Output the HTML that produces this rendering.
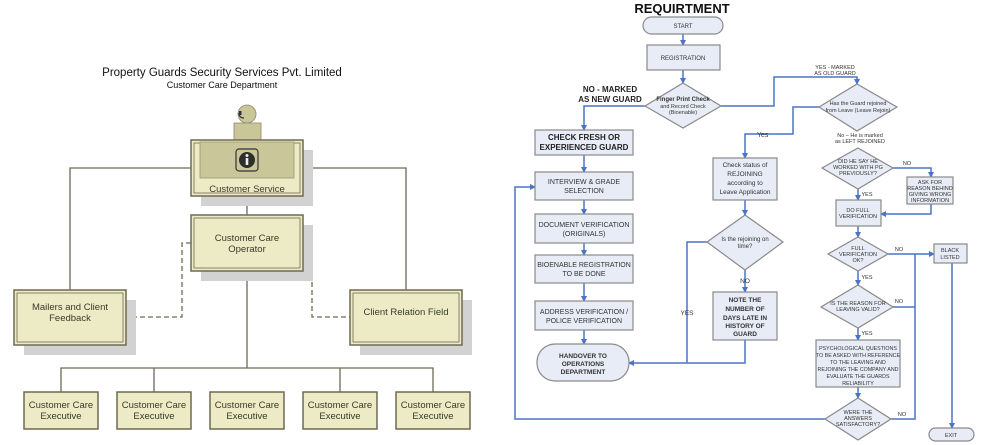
<!DOCTYPE html>
<html><head><meta charset="utf-8"><style>
html,body{margin:0;padding:0;background:#fff;width:1000px;height:445px;overflow:hidden}
svg{display:block}
text{font-family:"Liberation Sans",Arial,sans-serif}
.lt{font-size:9.5px;fill:#3a3a2a;text-anchor:middle}
.ft{font-size:6px;fill:#333;text-anchor:middle}
.fb{font-size:8px;fill:#222;text-anchor:middle;font-weight:bold}
.ob{fill:#ecebc6;stroke:#6e6a52;stroke-width:1.5}
.sh{fill:#d2d2d2}
.ol{stroke:#6e6a52;stroke-width:1.3;fill:none}
.bx{fill:#e8ecf6;stroke:#8a8a8a;stroke-width:1.2}
.bl{stroke:#4a74c6;stroke-width:1.5;fill:none}
</style></head><body>
<svg width="1000" height="445" viewBox="0 0 1000 445" xmlns="http://www.w3.org/2000/svg">
<defs><marker id="a" markerWidth="6" markerHeight="6" refX="5" refY="3" orient="auto" markerUnits="userSpaceOnUse"><path d="M0,0 L6,3 L0,6 z" fill="#4a74c6"/></marker></defs>

<!-- LEFT CHART -->
<text x="222" y="76" style="font-size:11.5px;text-anchor:middle;fill:#111">Property Guards Security Services Pvt. Limited</text>
<text x="222" y="88" style="font-size:9px;text-anchor:middle;fill:#111">Customer Care Department</text>

<!-- connectors -->
<path class="ol" d="M191,168 H70 V290 M303,168 H406 V290 M247,196 V215 M247,271 V368 M61,392 V368 H433 V392 M154,368 V392 M340,368 V392"/>
<path class="ol" stroke-dasharray="5,3" d="M191,243 H182 V317 H128 M303,243 H312 V317 H350"/>

<!-- shadows -->
<rect class="sh" x="201" y="150" width="112" height="56"/>
<rect class="sh" x="201" y="225" width="112" height="56"/>
<rect class="sh" x="24" y="300" width="112" height="55"/>
<rect class="sh" x="360" y="300" width="112" height="55"/>

<!-- person -->
<circle cx="247" cy="114" r="9" fill="#c9c69a" stroke="#8a8668" stroke-width="0.8"/>
<path d="M239,113 q0,5 5,5" stroke="#333" stroke-width="1.2" fill="none"/>
<rect x="239" y="111" width="2.5" height="4" fill="#333"/>
<path d="M234,123 H261 V141 H234 Z" fill="#c9c69a" stroke="#8a8668" stroke-width="0.8"/>

<!-- Customer Service -->
<rect class="ob" x="191" y="140" width="112" height="56"/>
<rect x="194" y="143" width="106" height="50" fill="none" stroke="#6e6a52" stroke-width="0.8"/>
<rect x="200" y="142" width="94" height="36" fill="#c9c69a" stroke="#9a966f" stroke-width="0.8"/>
<rect x="236" y="149" width="22" height="22" rx="3" fill="#c9c69a" stroke="#333" stroke-width="1.2"/>
<circle cx="247" cy="160" r="8" fill="#2e2e2a"/>
<circle cx="247" cy="155.5" r="1.5" fill="#eee"/>
<rect x="245.7" y="158" width="2.6" height="7" fill="#eee"/>
<text class="lt" x="247" y="192">Customer Service</text>

<!-- Operator -->
<rect class="ob" x="191" y="215" width="112" height="56"/>
<rect x="194" y="218" width="106" height="50" fill="none" stroke="#6e6a52" stroke-width="0.8"/>
<text class="lt" x="247" y="241">Customer Care</text>
<text class="lt" x="247" y="252">Operator</text>

<!-- Mailers -->
<rect class="ob" x="14" y="290" width="112" height="55"/>
<rect x="17" y="293" width="106" height="49" fill="none" stroke="#6e6a52" stroke-width="0.8"/>
<text class="lt" x="70" y="310">Mailers and Client</text>
<text class="lt" x="70" y="321">Feedback</text>

<!-- Client Relation -->
<rect class="ob" x="350" y="290" width="112" height="55"/>
<rect x="353" y="293" width="106" height="49" fill="none" stroke="#6e6a52" stroke-width="0.8"/>
<text class="lt" x="406" y="315">Client Relation Field</text>

<!-- executives -->
<g>
<rect class="ob" x="24" y="392" width="74" height="37"/><text class="lt" x="61" y="408">Customer Care</text><text class="lt" x="61" y="419">Executive</text>
<rect class="ob" x="117" y="392" width="74" height="37"/><text class="lt" x="154" y="408">Customer Care</text><text class="lt" x="154" y="419">Executive</text>
<rect class="ob" x="210" y="392" width="74" height="37"/><text class="lt" x="247" y="408">Customer Care</text><text class="lt" x="247" y="419">Executive</text>
<rect class="ob" x="303" y="392" width="74" height="37"/><text class="lt" x="340" y="408">Customer Care</text><text class="lt" x="340" y="419">Executive</text>
<rect class="ob" x="396" y="392" width="74" height="37"/><text class="lt" x="433" y="408">Customer Care</text><text class="lt" x="433" y="419">Executive</text>
</g>

<!-- RIGHT FLOWCHART -->
<text x="682" y="13" style="font-size:13px;font-weight:bold;text-anchor:middle;fill:#111">REQUIRTMENT</text>

<!-- connectors -->
<path class="bl" marker-end="url(#a)" d="M683,34 V45"/>
<path class="bl" marker-end="url(#a)" d="M683,70 V83"/>
<path class="bl" marker-end="url(#a)" d="M645,106 H584 V130"/>
<path class="bl" marker-end="url(#a)" d="M584,155 V172"/>
<path class="bl" marker-end="url(#a)" d="M584,200 V214"/>
<path class="bl" marker-end="url(#a)" d="M584,243 V255"/>
<path class="bl" marker-end="url(#a)" d="M584,283 V301"/>
<path class="bl" marker-end="url(#a)" d="M584,330 V344"/>
<path class="bl" marker-end="url(#a)" d="M825,419 H515 V187 H535"/>
<path class="bl" marker-end="url(#a)" d="M721,106 H774 V77 H857 V84"/>
<path class="bl" marker-end="url(#a)" d="M819,107 H793 V134 H745 V158"/>
<path class="bl" marker-end="url(#a)" d="M745,200 V215"/>
<path class="bl" marker-end="url(#a)" d="M745,270 V292"/>
<path class="bl" marker-end="url(#a)" d="M745,340 V363 H629"/>
<path class="bl" d="M707,242 H687 V363"/>
<path class="bl" marker-end="url(#a)" d="M893,168 H931 V177"/>
<path class="bl" marker-end="url(#a)" d="M931,204 V214 H881"/>
<path class="bl" marker-end="url(#a)" d="M858,189 V200"/>
<path class="bl" marker-end="url(#a)" d="M858,226 V237"/>
<path class="bl" marker-end="url(#a)" d="M888,254 H934"/>
<path class="bl" d="M915,254 V419 H891 M893,307 H915"/>
<path class="bl" marker-end="url(#a)" d="M858,271 V285"/>
<path class="bl" marker-end="url(#a)" d="M858,328 V340"/>
<path class="bl" marker-end="url(#a)" d="M858,387 V398"/>
<path class="bl" marker-end="url(#a)" d="M952,263 V428"/>

<!-- shapes -->
<rect class="bx" x="643" y="17" width="80" height="17" rx="8.5"/><text class="ft" x="683" y="28">START</text>
<rect class="bx" x="647" y="45" width="73" height="25"/><text class="ft" x="683" y="60">REGISTRATION</text>
<polygon class="bx" points="683,83 721,106 683,128 645,106"/>
<text class="ft" x="683" y="101" style="font-weight:bold">Finger Print Check</text>
<text class="ft" x="683" y="108" style="font-size:5.5px">and Record Check</text>
<text class="ft" x="683" y="114" style="font-size:5.5px">(Bioenable)</text>
<text class="fb" x="610" y="92">NO - MARKED</text>
<text class="fb" x="610" y="102">AS NEW GUARD</text>

<rect class="bx" x="535" y="130" width="98" height="25"/><text class="fb" x="584" y="140">CHECK FRESH OR</text><text class="fb" x="584" y="150">EXPERIENCED GUARD</text>
<rect class="bx" x="535" y="172" width="98" height="28"/><text class="ft" x="584" y="184" style="font-size:7px">INTERVIEW &amp; GRADE</text><text class="ft" x="584" y="193" style="font-size:7px">SELECTION</text>
<rect class="bx" x="535" y="214" width="98" height="29"/><text class="ft" x="584" y="227" style="font-size:7px">DOCUMENT VERIFICATION</text><text class="ft" x="584" y="236" style="font-size:7px">(ORIGINALS)</text>
<rect class="bx" x="535" y="255" width="98" height="28"/><text class="ft" x="584" y="267" style="font-size:7px">BIOENABLE REGISTRATION</text><text class="ft" x="584" y="276" style="font-size:7px">TO BE DONE</text>
<rect class="bx" x="535" y="301" width="98" height="29"/><text class="ft" x="584" y="314" style="font-size:7px">ADDRESS VERIFICATION /</text><text class="ft" x="584" y="323" style="font-size:7px">POLICE VERIFICATION</text>
<rect class="bx" x="537" y="344" width="92" height="37" rx="18"/><text class="ft" x="583" y="358" style="font-size:6.5px;font-weight:bold">HANDOVER TO</text><text class="ft" x="583" y="366" style="font-size:6.5px;font-weight:bold">OPERATIONS</text><text class="ft" x="583" y="374" style="font-size:6.5px;font-weight:bold">DEPARTMENT</text>

<text class="ft" x="835" y="69" style="font-size:5.5px">YES - MARKED</text><text class="ft" x="835" y="75" style="font-size:5.5px">AS OLD GUARD</text>
<polygon class="bx" points="857,84 897,107 857,131 819,107"/>
<text class="ft" x="858" y="105" style="font-size:5.5px">Has the Guard rejoined</text><text class="ft" x="858" y="112" style="font-size:5.5px">from Leave (Leave Rejoin)</text>
<text x="757" y="137" style="font-size:7px;fill:#333">Yes</text>
<text class="ft" x="860" y="137" style="font-size:5.5px">No – He is marked</text><text class="ft" x="860" y="143" style="font-size:5.5px">as LEFT REJOINED</text>

<rect class="bx" x="713" y="158" width="64" height="42"/>
<text class="ft" x="745" y="167" style="font-size:6.5px">Check status of</text><text class="ft" x="745" y="176" style="font-size:6.5px">REJOINING</text><text class="ft" x="745" y="185" style="font-size:6.5px">according to</text><text class="ft" x="745" y="194" style="font-size:6.5px">Leave Application</text>
<polygon class="bx" points="745,215 783,242 745,270 707,242"/>
<text class="ft" x="745" y="241" style="font-size:6px">Is the rejoining on</text><text class="ft" x="745" y="248" style="font-size:6px">time?</text>
<text class="ft" x="745" y="283" style="font-size:6.5px">NO</text>
<rect class="bx" x="713" y="292" width="64" height="48"/>
<text class="ft" x="745" y="302" style="font-size:6.5px;font-weight:bold">NOTE THE</text><text class="ft" x="745" y="311" style="font-size:6.5px;font-weight:bold">NUMBER OF</text><text class="ft" x="745" y="320" style="font-size:6.5px;font-weight:bold">DAYS LATE IN</text><text class="ft" x="745" y="328" style="font-size:6.5px;font-weight:bold">HISTORY OF</text><text class="ft" x="745" y="336" style="font-size:6.5px;font-weight:bold">GUARD</text>
<text class="ft" x="687" y="315" style="font-size:6.5px">YES</text>

<polygon class="bx" points="858,148 893,168 858,189 822,168"/>
<text class="ft" x="858" y="163" style="font-size:5.5px">DID HE SAY HE</text><text class="ft" x="858" y="169" style="font-size:5.5px">WORKED WITH PG</text><text class="ft" x="858" y="175" style="font-size:5.5px">PREVIOUSLY?</text>
<text class="ft" x="907" y="165" style="font-size:5.5px">NO</text>
<rect class="bx" x="907" y="177" width="46" height="27"/>
<text class="ft" x="930" y="184" style="font-size:5.5px">ASK FOR</text><text class="ft" x="930" y="190" style="font-size:5.5px">REASON BEHIND</text><text class="ft" x="930" y="196" style="font-size:5.5px">GIVING WRONG</text><text class="ft" x="930" y="202" style="font-size:5.5px">INFORMATION</text>
<text class="ft" x="867" y="196" style="font-size:5.5px">YES</text>
<rect class="bx" x="836" y="200" width="45" height="26"/>
<text class="ft" x="858" y="212" style="font-size:5.5px">DO FULL</text><text class="ft" x="858" y="218" style="font-size:5.5px">VERIFICATION</text>

<polygon class="bx" points="858,237 888,254 858,271 828,254"/>
<text class="ft" x="858" y="250" style="font-size:5.5px">FULL</text><text class="ft" x="858" y="256" style="font-size:5.5px">VERIFICATION</text><text class="ft" x="858" y="262" style="font-size:5.5px">OK?</text>
<text class="ft" x="899" y="251" style="font-size:5.5px">NO</text>
<rect class="bx" x="934" y="244" width="33" height="19"/>
<text class="ft" x="950" y="252" style="font-size:5.5px">BLACK</text><text class="ft" x="950" y="259" style="font-size:5.5px">LISTED</text>
<text class="ft" x="867" y="279" style="font-size:5.5px">YES</text>
<polygon class="bx" points="858,285 893,307 858,328 821,307"/>
<text class="ft" x="858" y="305" style="font-size:5.5px">IS THE REASON FOR</text><text class="ft" x="858" y="311" style="font-size:5.5px">LEAVING VALID?</text>
<text class="ft" x="899" y="303" style="font-size:5.5px">NO</text>
<text class="ft" x="867" y="335" style="font-size:5.5px">YES</text>
<rect class="bx" x="816" y="340" width="84" height="47"/>
<text class="ft" x="858" y="350" style="font-size:5.3px">PSYCHOLOGICAL QUESTIONS</text><text class="ft" x="858" y="357" style="font-size:5.3px">TO BE ASKED WITH REFERENCE</text><text class="ft" x="858" y="364" style="font-size:5.3px">TO THE LEAVING AND</text><text class="ft" x="858" y="371" style="font-size:5.3px">REJOINING THE COMPANY AND</text><text class="ft" x="858" y="378" style="font-size:5.3px">EVALUATE THE GUARDS</text><text class="ft" x="858" y="385" style="font-size:5.3px">RELIABILITY</text>
<polygon class="bx" points="858,398 891,419 858,440 825,419"/>
<text class="ft" x="858" y="414" style="font-size:5.5px">WERE THE</text><text class="ft" x="858" y="420" style="font-size:5.5px">ANSWERS</text><text class="ft" x="858" y="426" style="font-size:5.5px">SATISFACTORY?</text>
<text class="ft" x="902" y="416" style="font-size:5.5px">NO</text>
<rect class="bx" x="929" y="428" width="45" height="13" rx="6.5"/><text class="ft" x="951" y="437" style="font-size:5.5px">EXIT</text>
</svg>
</body></html>
